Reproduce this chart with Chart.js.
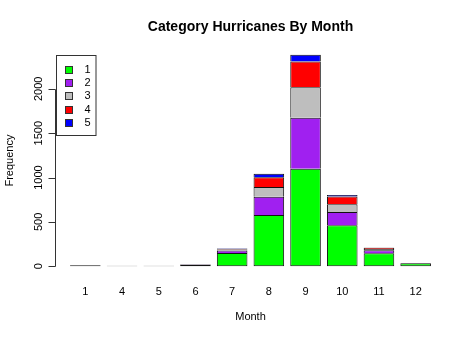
<!DOCTYPE html>
<html>
<head>
<meta charset="utf-8">
<script src="https://cdn.jsdelivr.net/npm/chart.js"></script>
<style>
  html, body { margin: 0; padding: 0; background: #fff; }
  #wrap { width: 474px; height: 338px; }
</style>
</head>
<body>
<div id="wrap"><canvas id="myChart" width="474" height="338"></canvas></div>
<script>
const months = ["1", "4", "5", "6", "7", "8", "9", "10", "11", "12"];
const categories = ["1", "2", "3", "4", "5"];

// storm counts per month, one array per Saffir-Simpson category
const cat1 = [12, 5, 5, 20, 150, 577, 1099, 461, 148, 35];
const cat2 = [0, 0, 0, 4, 28, 207, 574, 151, 32, 3];
const cat3 = [0, 0, 0, 1, 10, 108, 344, 86, 14, 0];
const cat4 = [0, 0, 0, 0, 10, 112, 292, 87, 14, 0];
const cat5 = [0, 0, 0, 0, 4, 38, 75, 19, 4, 0];

const catColors = ["#00ff00", "#a020f0", "#bebebe", "#ff0000", "#0000ff"];
const yTicks = [0, 500, 1000, 1500, 2000];

const FONT = "'Liberation Sans', Arial, Helvetica, sans-serif";
const INK = "#333";

window.onload = function () {
  const ctx = document.getElementById("myChart").getContext("2d");
  const series = [cat1, cat2, cat3, cat4, cat5];

  // stacked segments share an edge, so only the lowest one draws a bottom border
  const datasets = series.map((data, i) => ({
    label: categories[i],
    data: data,
    backgroundColor: catColors[i],
    borderColor: "#111",
    borderWidth: { top: 1, left: 1, right: 1, bottom: i === 0 ? 1 : 0 },
    borderSkipped: false,
    categoryPercentage: 1,
    barPercentage: 1 / 1.2,
  }));

  // base-graphics style decorations: axis, rotated labels, title, legend
  const decorations = {
    id: "decorations",
    afterDraw(chart) {
      const c = chart.ctx;
      const area = chart.chartArea;
      const y = chart.scales.y;
      const axisX = area.left - 11.5;

      c.save();
      c.strokeStyle = INK;
      c.lineWidth = 1;
      c.beginPath();
      c.moveTo(axisX, Math.round(y.getPixelForValue(yTicks[0])) + 0.5);
      c.lineTo(axisX, Math.round(y.getPixelForValue(yTicks[yTicks.length - 1])) + 0.5);
      yTicks.forEach((v) => {
        const py = Math.round(y.getPixelForValue(v)) + 0.5;
        c.moveTo(axisX - 7, py);
        c.lineTo(axisX, py);
      });
      c.stroke();

      c.fillStyle = "#000";
      c.font = "11px " + FONT;
      c.textAlign = "center";
      c.textBaseline = "middle";
      yTicks.forEach((v) => {
        const py = y.getPixelForValue(v);
        c.save();
        c.translate(axisX - 17, py);
        c.rotate(-Math.PI / 2);
        c.fillText(String(v), 0, 0);
        c.restore();
      });

      c.save();
      c.translate(10, (area.top + area.bottom) / 2);
      c.rotate(-Math.PI / 2);
      c.fillText("Frequency", 0, 0);
      c.restore();

      c.font = "bold 14px " + FONT;
      c.fillText("Category Hurricanes By Month", (area.left + area.right) / 2, 27);

      // legend box in the top-left corner of the plot
      const lx = Math.round(axisX) + 0.5;
      const ly = 55.5;
      c.strokeStyle = INK;
      c.strokeRect(lx, ly, 39.5, 80);
      c.font = "11px " + FONT;
      chart.data.datasets.forEach((ds, i) => {
        const ry = 69 + i * 13.4;
        c.fillStyle = ds.backgroundColor;
        c.fillRect(lx + 9, Math.round(ry - 3.5) + 0.5, 7, 7);
        c.strokeRect(lx + 9, Math.round(ry - 3.5) + 0.5, 7, 7);
        c.fillStyle = "#000";
        c.fillText(ds.label, lx + 31, ry + 0.5);
      });
      c.restore();
    },
  };

  new Chart(ctx, {
    type: "bar",
    data: { labels: months, datasets },
    plugins: [decorations],
    options: {
      responsive: false,
      animation: false,
      layout: { padding: { left: 67, right: 40, top: 46.5, bottom: 0 } },
      plugins: {
        legend: { display: false },
        title: { display: false },
        tooltip: { enabled: false },
      },
      scales: {
        x: {
          stacked: true,
          grid: { display: false, drawTicks: false },
          border: { display: false },
          ticks: {
            color: "#000",
            font: { family: FONT, size: 11 },
            padding: 11,
            maxRotation: 0,
            autoSkip: false,
          },
          title: {
            display: true,
            text: "Month",
            color: "#000",
            font: { family: FONT, size: 11 },
            padding: { top: 1, bottom: 14 },
          },
        },
        y: {
          stacked: true,
          display: false,
          min: -94,
          max: 2477,
        },
      },
    },
  });
};
</script>
</body>
</html>
